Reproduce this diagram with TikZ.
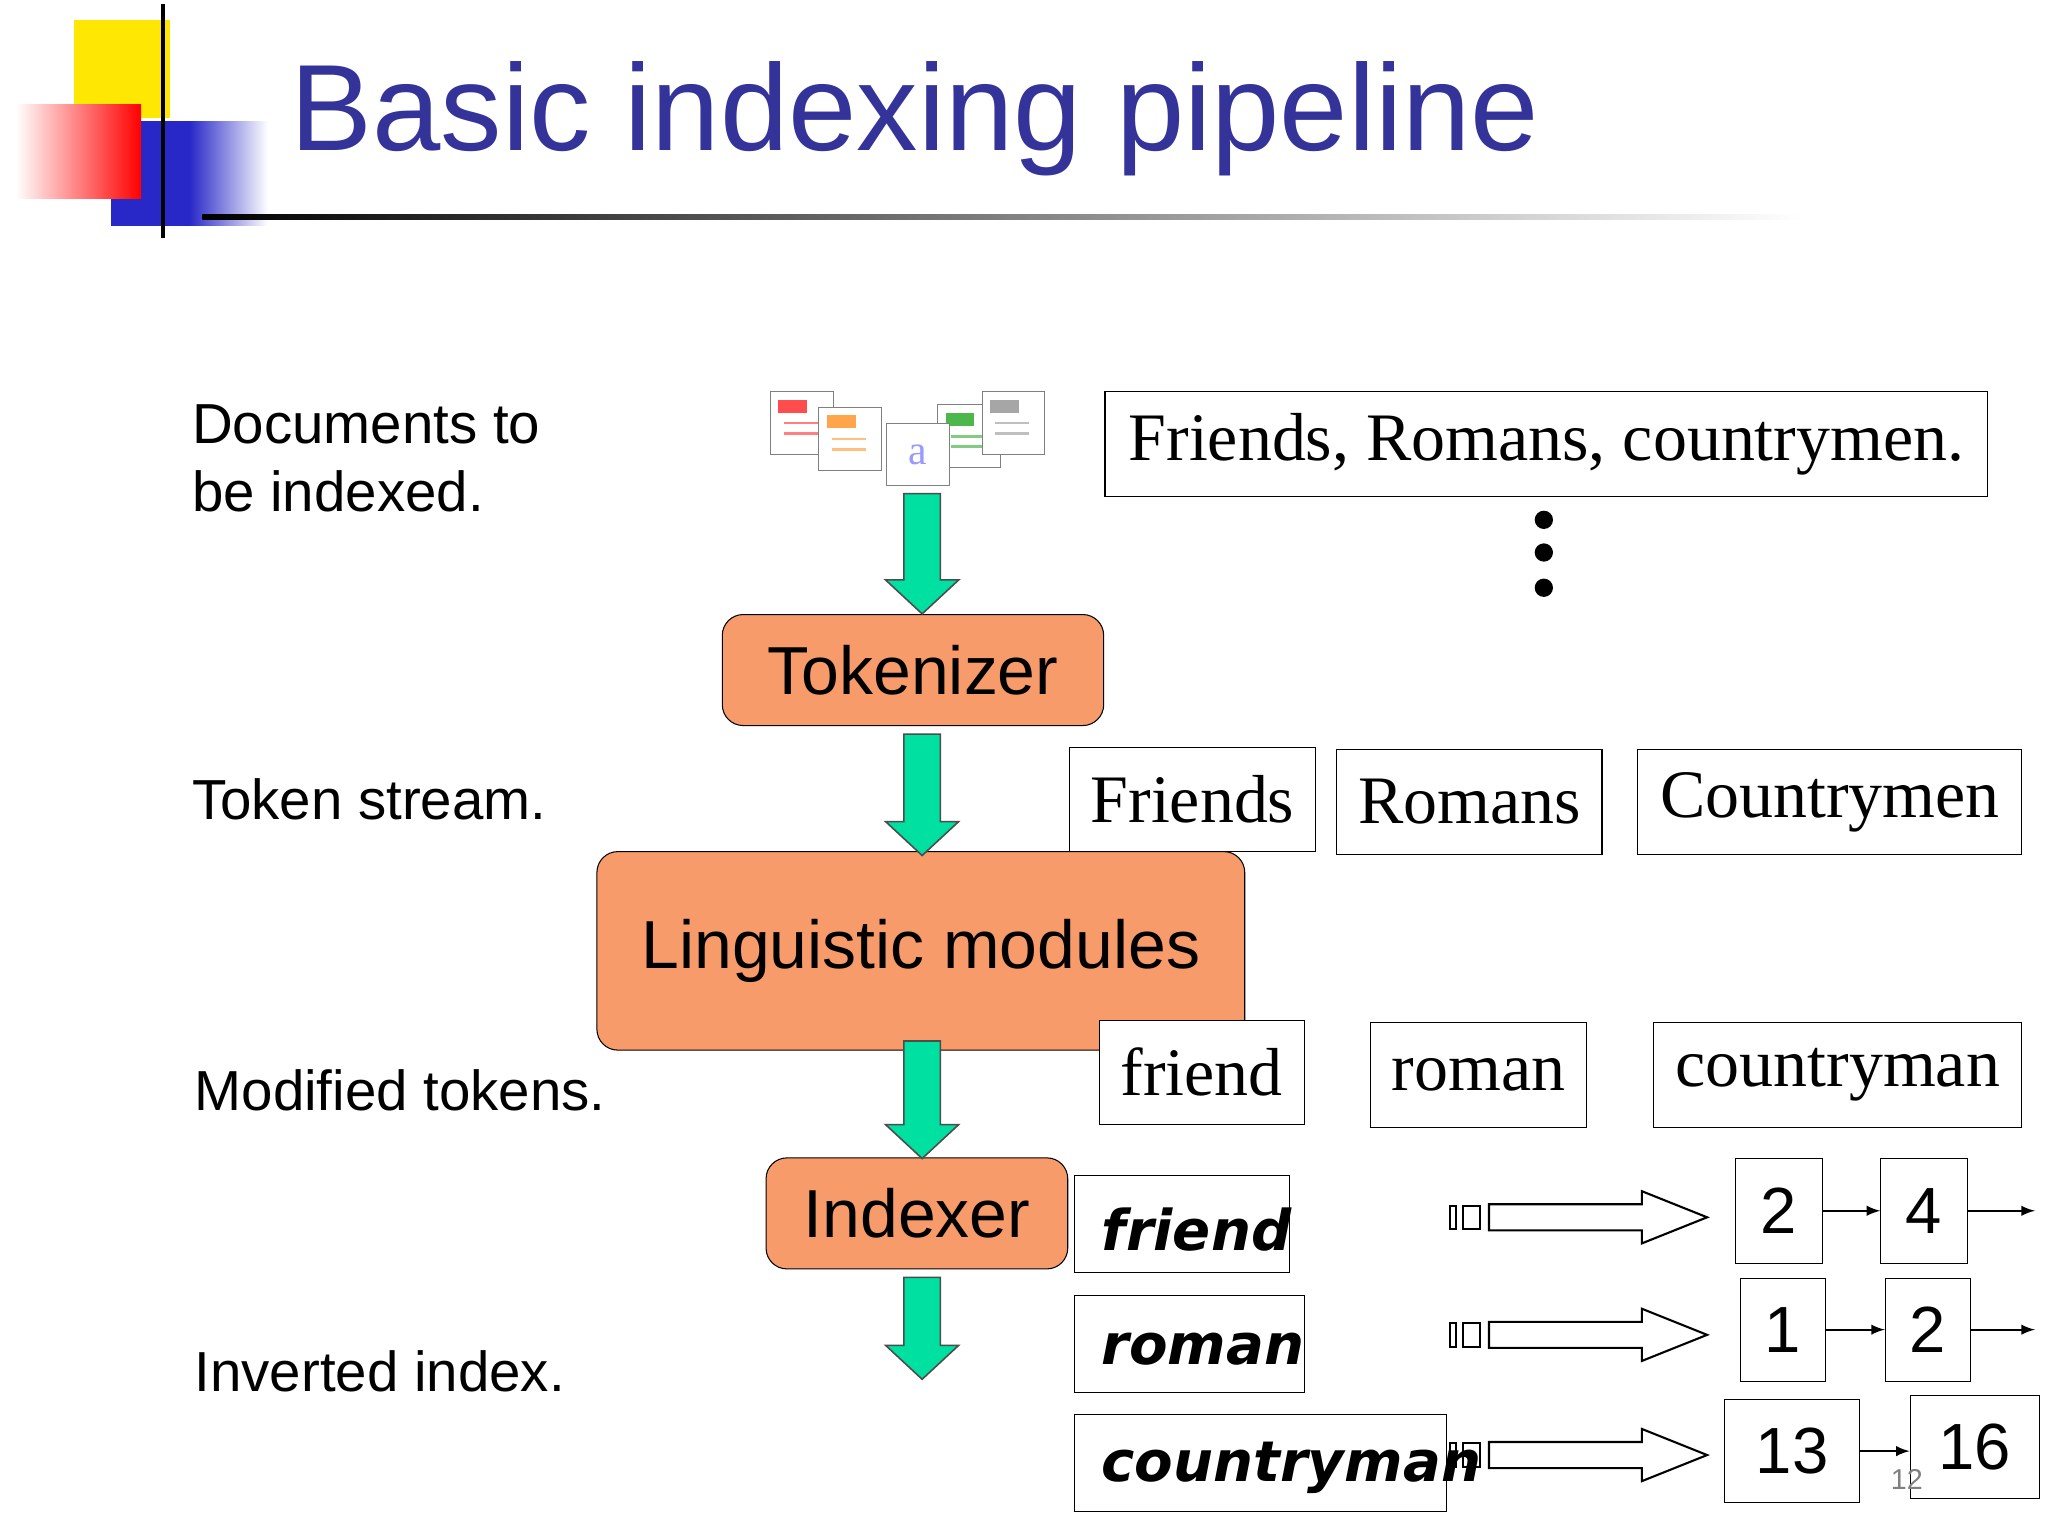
\documentclass[tikz,border=0pt]{standalone}
\usepackage{fontspec}
\setmainfont{Liberation Sans}
\newfontfamily\serifx{Liberation Serif}
\newfontfamily\boldit{DejaVu Sans}
\definecolor{ttl}{RGB}{51,51,153}
\definecolor{org}{RGB}{248,155,106}
\definecolor{grn}{RGB}{0,224,160}
\definecolor{lblue}{RGB}{40,40,200}
\begin{document}
\begin{tikzpicture}[x=0.5pt,y=-0.5pt,
  lbl/.style={anchor=west,font=\fontsize{21.6}{26}\selectfont,align=left},
  proc/.style={draw,fill=org,rounded corners=8pt,font=\fontsize{26}{30}\selectfont,inner sep=0pt},
  wbox/.style={draw,fill=white,font=\serifx\fontsize{26}{30}\selectfont,inner sep=0pt},
  ibox/.style={draw,fill=white,inner sep=0pt},
  pbox/.style={draw,fill=white,font=\fontsize{25}{30}\selectfont,inner sep=0pt},
  garrow/.style={draw=black!70,fill=grn,line width=0.6pt},
  harrow/.style={draw,fill=white,line width=0.8pt},
  sarr/.style={-latex,line width=0.8pt}]
\useasboundingbox[fill=white] (0,0) rectangle (1568,1176);
% logo
\fill[yellow!90!orange] (57,15) rectangle (130,90);
\shade[left color=lblue,right color=white,middle color=lblue] (85,93) rectangle (205,173);
\shade[left color=white,right color=red] (12,80) rectangle (108,152);
\draw[line width=1.5pt] (125,3) -- (125,182);
\shade[left color=black,right color=white] (155,164) rectangle (1380,168);
\node[anchor=base west,text=ttl,font=\fontsize{47}{56}\selectfont,inner sep=0pt] (title) at (222,115) {Basic indexing pipeline};
% left labels
\node[lbl] (l1) at (140,351) {Documents to\\be indexed.};
\node[lbl] (l2) at (140,612) {Token stream.};
\node[lbl] (l3) at (142,835) {Modified tokens.};
\node[lbl] (l4) at (142,1050) {Inverted index.};
% document icons
\foreach \x/\y/\c in {590/300/red,627/312/orange,718/310/green!60!black,752/300/gray}{
  \draw[fill=white,draw=gray] (\x,\y) rectangle ++(48,48);
  \fill[\c!70] (\x+6,\y+6) rectangle ++(22,10);
  \draw[\c!50,line width=1pt] (\x+10,\y+24) -- ++(26,0) (\x+10,\y+32) -- ++(26,0);}
\node[draw=gray,fill=white,minimum width=24pt,minimum height=24pt,inner sep=0pt,text=blue!40,font=\serifx\fontsize{16}{16}\selectfont] (docs) at (703,348) {a};
% process boxes
\node[proc,minimum width=146pt,minimum height=42.5pt] (tok) at (699,513) {Tokenizer};
\node[proc,minimum width=248pt,minimum height=76pt] (ling) at (705,728) {Linguistic modules};
\node[proc,minimum width=115.5pt,minimum height=42.5pt] (idx) at (702,929) {Indexer};
% green arrows
\foreach \a/\b in {378/470,562/655,797/887,978/1056}
  \draw[garrow] (692,\a) -- (720,\a) -- (720,\b-26) -- (734,\b-26) -- (706,\b) -- (678,\b-26) -- (692,\b-26) -- cycle;
% text boxes
\node[wbox,minimum width=338pt,minimum height=40pt] (fr) at (1184,340) {Friends, Romans, countrymen.};
\foreach \y in {398,423,450} \fill (1182,\y) circle (7);
\node[wbox,minimum width=94.5pt,minimum height=40pt] (t1) at (913,612) {Friends};
\node[wbox,minimum width=101.5pt,minimum height=40pt] (t2) at (1125,614) {Romans};
\node[wbox,minimum width=147pt,minimum height=40pt] (t3) at (1401,614) {Countrymen};
\node[wbox,minimum width=78.5pt,minimum height=40pt] (m1) at (920,821) {friend};
\node[wbox,minimum width=83pt,minimum height=40pt] (m2) at (1132,823) {roman};
\node[wbox,minimum width=141pt,minimum height=40pt] (m3) at (1407,823) {countryman};
% index terms
\node[ibox,minimum width=82pt,minimum height=37pt] (i1) at (905,937) {};
\node[ibox,minimum width=88pt,minimum height=37pt] (i2) at (911,1029) {};
\node[ibox,minimum width=142.5pt,minimum height=37pt] (i3) at (965,1120) {};
\foreach \n/\y/\t in {i1/937/friend,i2/1029/roman,i3/1120/countryman}
  \node[anchor=west,inner sep=0pt,font=\boldit\bfseries\itshape\fontsize{21.5}{26}\selectfont] at (843,\y+4) {\t};
% hollow arrows
\foreach \y in {932,1022,1114}{
  \draw[line width=0.8pt] (1110,\y-9) rectangle ++(5,18) (1120,\y-9) rectangle ++(13,18);
  \draw[harrow] (1140,\y-10) -- (1257,\y-10) -- (1257,\y-20) -- (1307,\y) -- (1257,\y+20) -- (1257,\y+10) -- (1140,\y+10) -- cycle;}
% postings
\node[pbox,minimum width=33pt,minimum height=40pt] (p11) at (1362,927) {2};
\node[pbox,minimum width=33pt,minimum height=40pt] (p12) at (1473,927) {4};
\coordinate (e1) at (1558,927);
\node[pbox,minimum width=32.5pt,minimum height=39.5pt] (p21) at (1365,1018) {1};
\node[pbox,minimum width=32.5pt,minimum height=39.5pt] (p22) at (1476,1018) {2};
\coordinate (e2) at (1558,1018);
\node[pbox,minimum width=51.5pt,minimum height=39.5pt] (p31) at (1372,1111) {13};
\node[pbox,minimum width=49.5pt,minimum height=39.5pt] (p32) at (1512,1108) {16};
\draw[sarr] (p11) -- (p12); \draw[sarr] (p12) -- (e1);
\draw[sarr] (p21) -- (p22); \draw[sarr] (p22) -- (e2);
\draw[sarr] (p31.east) -- (p32.west|-p31.east);
\node[text=gray,font=\fontsize{11}{12}\selectfont] (pg) at (1460,1133) {12};
\end{tikzpicture}
\end{document}
